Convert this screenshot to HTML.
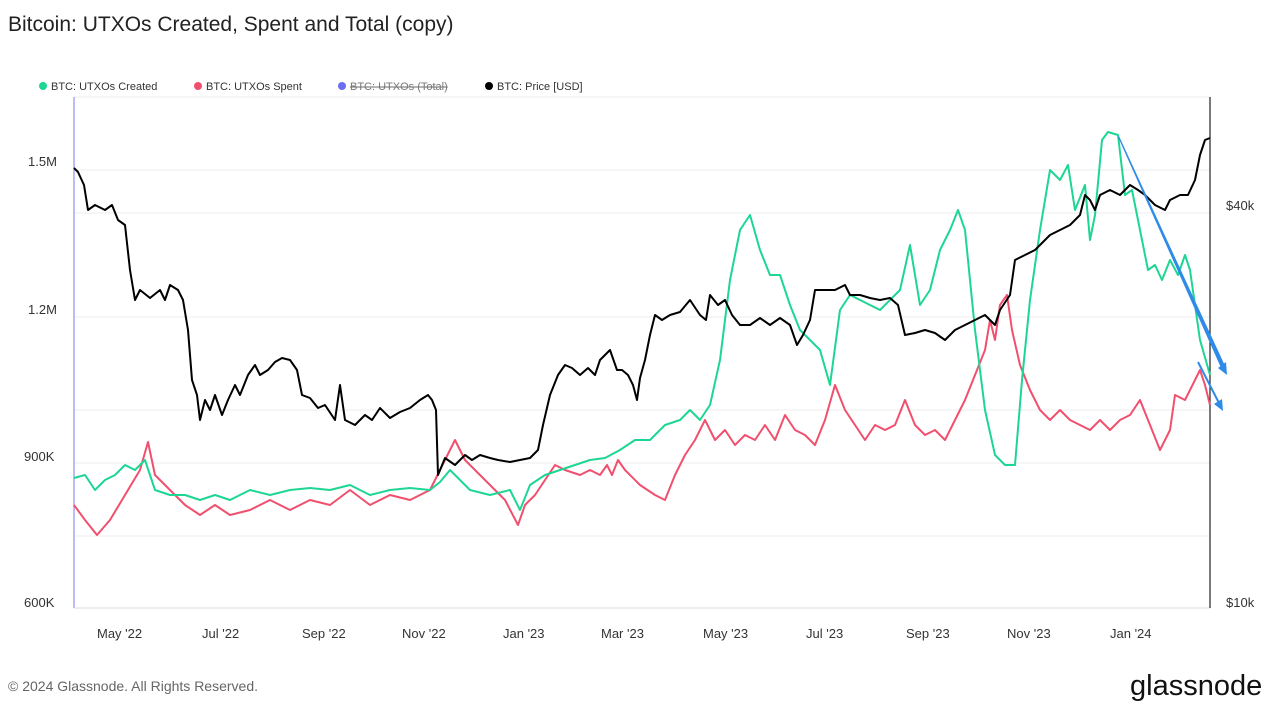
<!DOCTYPE html>
<html><head><meta charset="utf-8"><style>
body{margin:0;background:#fff;font-family:"Liberation Sans",sans-serif;}
</style></head><body>
<svg width="1285" height="709" xmlns="http://www.w3.org/2000/svg" font-family="Liberation Sans, sans-serif">
<text x="8" y="31" font-size="21" fill="#222">Bitcoin: UTXOs Created, Spent and Total (copy)</text>
<g font-size="11" fill="#333">
<circle cx="43" cy="86" r="4" fill="#1ed694"/><text x="51" y="90">BTC: UTXOs Created</text>
<circle cx="198" cy="86" r="4" fill="#f0506e"/><text x="206" y="90">BTC: UTXOs Spent</text>
<circle cx="342" cy="86" r="4" fill="#6d6ef0"/><text x="350" y="90" fill="#777" text-decoration="line-through">BTC: UTXOs (Total)</text>
<circle cx="489" cy="86" r="4" fill="#000"/><text x="497" y="90">BTC: Price [USD]</text>
</g>
<g stroke="#eee" stroke-width="1">
<line x1="74" y1="97" x2="1210" y2="97"/><line x1="74" y1="170" x2="1210" y2="170"/>
<line x1="74" y1="213" x2="1210" y2="213"/><line x1="74" y1="317" x2="1210" y2="317"/>
<line x1="74" y1="410" x2="1210" y2="410"/><line x1="74" y1="463" x2="1210" y2="463"/>
<line x1="74" y1="536" x2="1210" y2="536"/>
</g>
<line x1="74" y1="97" x2="74" y2="608" stroke="#8f8ff0" stroke-width="1.2"/>
<line x1="74" y1="608" x2="1210" y2="608" stroke="#ddd"/>
<line x1="1210" y1="97" x2="1210" y2="608" stroke="#222" stroke-width="1.2"/>
<g font-size="13" fill="#333">
<text x="28" y="166">1.5M</text><text x="28" y="314">1.2M</text><text x="24" y="461">900K</text><text x="24" y="607">600K</text>
<text x="1226" y="210">$40k</text><text x="1226" y="607">$10k</text>
<text x="97" y="638">May '22</text><text x="202" y="638">Jul '22</text><text x="302" y="638">Sep '22</text><text x="402" y="638">Nov '22</text>
<text x="503" y="638">Jan '23</text><text x="601" y="638">Mar '23</text><text x="703" y="638">May '23</text><text x="806" y="638">Jul '23</text>
<text x="906" y="638">Sep '23</text><text x="1007" y="638">Nov '23</text><text x="1110" y="638">Jan '24</text>
</g>
<g fill="none" stroke-width="2" stroke-linejoin="round">
<polyline stroke="#f0506e" points="74,505 85,520 97,535 110,520 125,495 140,470 148,442 155,475 170,490 185,505 200,515 215,505 230,515 250,510 270,500 290,510 310,500 330,505 350,490 370,505 390,495 410,500 430,490 445,460 455,440 465,460 480,475 490,485 505,500 518,525 525,505 535,495 545,480 555,465 565,470 580,475 590,470 600,475 607,465 612,475 618,460 625,470 640,485 655,495 665,500 675,475 685,455 695,440 705,420 715,440 725,430 735,445 745,435 755,440 765,425 775,440 785,415 795,430 805,435 815,445 825,420 835,385 845,410 855,425 865,440 875,425 885,430 895,425 905,400 915,425 925,435 935,430 945,440 955,420 965,400 975,375 985,350 990,320 995,340 1000,305 1007,295 1012,330 1020,365 1030,390 1040,410 1050,420 1060,410 1070,420 1080,425 1090,430 1100,420 1110,430 1120,420 1130,415 1140,400 1150,425 1160,450 1170,430 1175,395 1185,400 1195,380 1200,370 1205,385 1210,405"/>
<polyline stroke="#1ed694" points="74,478 85,475 95,490 105,480 115,475 125,465 135,470 145,460 155,490 170,495 185,495 200,500 215,495 230,500 250,490 270,495 290,490 310,488 330,490 350,485 370,495 390,490 410,488 430,490 440,482 450,470 460,480 470,490 490,495 510,490 520,510 530,485 545,475 560,470 575,465 590,460 605,458 620,450 635,440 650,440 665,425 680,420 690,410 700,420 710,405 720,360 730,280 740,230 750,215 760,250 770,275 780,275 790,305 800,330 810,340 820,350 830,385 840,310 850,295 860,300 870,305 880,310 890,300 900,290 910,245 920,305 930,290 940,250 950,230 958,210 965,230 975,330 985,410 995,455 1005,465 1015,465 1022,380 1030,300 1040,230 1050,170 1060,180 1068,165 1075,210 1085,185 1090,240 1095,215 1102,140 1108,132 1118,135 1125,195 1132,190 1140,230 1148,270 1155,265 1162,280 1170,260 1178,275 1185,255 1190,270 1200,340 1210,375"/>
<polyline stroke="#000" points="74,168 78,172 84,185 88,210 95,205 105,210 112,205 118,220 125,225 130,270 135,300 140,290 150,298 160,290 165,300 170,285 178,290 183,300 188,330 192,380 197,395 200,420 205,400 210,410 215,395 222,415 228,400 235,385 240,395 248,375 255,365 260,375 268,370 275,362 282,358 290,360 297,370 302,395 310,398 318,408 325,405 335,420 340,385 345,420 355,425 365,415 372,420 380,408 390,418 400,412 410,408 420,400 428,395 432,400 436,410 438,475 445,458 455,465 465,455 472,460 480,455 490,458 498,460 510,462 520,460 530,458 538,450 543,425 550,395 558,375 565,365 572,368 580,375 588,368 595,375 600,360 610,350 617,370 622,370 628,375 633,385 637,400 640,378 645,360 650,335 655,315 662,320 670,315 680,312 690,300 700,315 706,320 710,295 718,305 725,300 732,315 740,325 750,325 760,318 770,325 780,318 790,325 797,345 803,335 810,320 815,290 825,290 835,290 845,285 850,295 860,295 870,298 880,300 890,298 898,305 905,335 915,333 925,330 935,333 945,340 955,330 965,325 975,320 985,315 995,325 1000,310 1010,295 1015,260 1025,255 1035,250 1045,240 1050,235 1060,230 1070,225 1080,215 1085,195 1090,200 1095,210 1100,195 1110,190 1120,195 1130,185 1138,190 1145,195 1150,200 1155,205 1165,210 1170,200 1180,195 1188,195 1195,180 1200,155 1205,140 1210,138"/>
</g>
<polygon points="1118,137 1119,136 1226,368 1222,370" fill="#2e8be8"/>
<polygon points="1227,375 1218,368 1226,362" fill="#2e8be8"/>
<line x1="1198" y1="362" x2="1220" y2="405" stroke="#2e8be8" stroke-width="2"/>
<polygon points="1223,411 1214,404 1222,399" fill="#2e8be8"/>
<text x="8" y="691" font-size="14" fill="#666">© 2024 Glassnode. All Rights Reserved.</text>
<text x="1130" y="695" font-size="29" fill="#111">glassnode</text>
</svg>
</body></html>
